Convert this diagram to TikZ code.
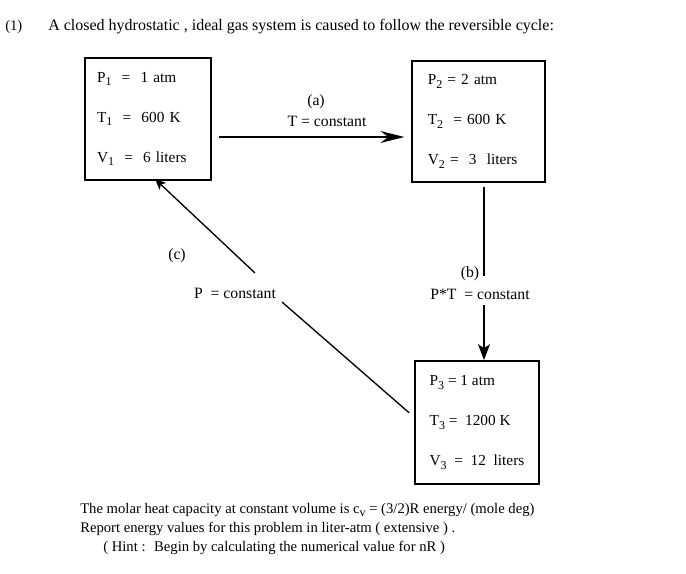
\documentclass[tikz,border=0pt]{standalone}
\usepackage{fontspec}
\setmainfont{Liberation Serif}
\usetikzlibrary{positioning,arrows.meta,calc}
\newcommand{\lowidx}[1]{\raisebox{-0.45ex}{\small #1}}

\begin{document}
\begin{tikzpicture}[
    x=0.75pt, y=-0.75pt,
    state/.style={draw, line width=1.3pt, align=left, inner ysep=0pt, font=\fontsize{11.5}{30}\selectfont},
    lbl/.style={inner sep=1pt, font=\fontsize{11.8}{13}\selectfont},
    txt/.style={anchor=west, inner sep=0pt, font=\fontsize{11}{13}\selectfont},
    arr/.style={line width=1pt},
    bigtip/.style={-{Stealth[length=18pt,width=9pt,inset=6pt]}},
    midtip/.style={-{Stealth[length=12pt,width=9pt,inset=3pt]}},
    smalltip/.style={-{Stealth[length=8pt,width=7pt,inset=2pt]}}
  ]
  \useasboundingbox (0,0) rectangle (686,574);

  % heading
  \node[txt] (num) at (5,27) {(1)};
  \node[txt, font=\fontsize{12}{14}\selectfont] (title) at (48,27) {A closed hydrostatic , ideal gas system is caused to follow the reversible cycle:};

  % the three states
  \node[state, minimum width=94.5pt, minimum height=91.5pt, text width=76.5pt, inner xsep=9pt] (s1) at (148,119)
    {P\lowidx{1} \ = \ 1 atm\\T\lowidx{1} \ = \ 600 K\\V\lowidx{1} \ = \ 6 liters};
  \node[state, minimum width=99.75pt, minimum height=90.75pt, text width=76pt, inner xsep=12pt] (s2) at (478.5,121.5)
    {P\lowidx{2} = 2 atm\\T\lowidx{2} \ = 600 K\\V\lowidx{2} = \ 3 \ liters};
  \node[state, minimum width=93pt, minimum height=92.25pt, inner xsep=2pt] (s3) at (477,422.5)
    {P\lowidx{3} = 1 atm\\T\lowidx{3} = \ 1200 K\\V\lowidx{3} \ = \ 12 \ liters};

  % process labels
  \node[lbl] (alab) at (316,102) {(a)};
  \node[lbl] (aname) at (327,121) {T = constant};
  \node[lbl] (blab) at (470,274) {(b)};
  \node[lbl] (bname) at (480,294) {P*T \ = constant};
  \node[lbl] (clab) at (177,256) {(c)};
  \node[lbl] (cname) at (235,293) {P \ = constant};

  % gaps in the lines
  \coordinate (btop) at (484,276);
  \coordinate (bbot) at (484,305);
  \coordinate (clow) at (282,302);
  \coordinate (chigh) at (255,273);

  % (a)
  \draw[arr, bigtip, shorten <=5pt, shorten >=5pt] ([yshift=-13.5pt]s1.east) -- ([yshift=-13.5pt]s1.east -| s2.west);
  % (b)
  \draw[arr, shorten <=3pt] (s2.south -| btop) -- (btop);
  \draw[arr, midtip] (bbot) -- (s3.north -| bbot);
  % (c)
  \draw[arr, shorten <=5pt] ([yshift=4pt]s3.west) -- (clow);
  \draw[arr, smalltip, shorten >=-2pt] (chigh) -- ([xshift=6.75pt]s1.south);

  % remarks
  \node[txt] (rem1) at (80,510) {The molar heat capacity at constant volume is c\lowidx{v} = (3/2)R energy/ (mole deg)};
  \node[txt] (rem2) at (80,529) {Report energy values for this problem in liter-atm ( extensive ) .};
  \node[txt] (rem3) at (103,548) {( Hint : \ Begin by calculating the numerical value for nR )};
\end{tikzpicture}
\end{document}
